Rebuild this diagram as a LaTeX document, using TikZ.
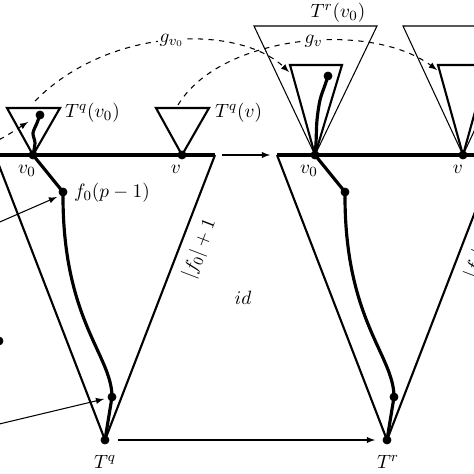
\documentclass[tikz,border=0pt]{standalone}
\usepackage{amssymb}
\usepackage{tikz}
\tikzset{>=latex}
\tikzset{edge/.style={line width=1.2pt},
         topline/.style={line width=1.8pt},
         walk/.style={line width=1.8pt,line cap=round},
         fine/.style={line width=0.6pt},
         map/.style={->,line width=0.6pt}}

\begin{document}
\begin{tikzpicture}[x=0.02cm,y=-0.02cm,font=\fontsize{11}{13}\selectfont]
            \useasboundingbox (0,0) rectangle (474,474);
            \clip (0,0) rectangle (474,474);
            % left tree
            \coordinate (v0) at (33,155);
            \coordinate (v) at (182,155);
            \coordinate (f0) at (63,192);
            \coordinate (fq) at (112,397);
            \coordinate (Tq) at (105,440);
            \coordinate (tq) at (40,115);
            \coordinate (ql) at (-5,155);
            \coordinate (qr) at (215,155);
            \draw[edge] (ql) -- (Tq) -- (qr);
            \draw[topline] (ql) -- (qr);
            \draw[edge] (7,108) -- (v0) -- (60,108) -- cycle;
            \draw[edge] (156,108) -- (v) -- (209,108) -- cycle;
            \draw[walk] plot[smooth] coordinates {(v0) (35,143) (33,133) (37,123) (tq)};
            \draw[walk] (v0) -- (f0) .. controls (62,320) and (112,355) .. (fq) -- (Tq);
            % right tree
            \coordinate (w0) at (315,155);
            \coordinate (w) at (463,155);
            \coordinate (g0) at (345,192);
            \coordinate (gr) at (394,397);
            \coordinate (Tr) at (387,440);
            \coordinate (tr) at (328,76);
            \coordinate (rl) at (277,155);
            \coordinate (rr) at (497,155);
            \draw[edge] (rl) -- (Tr) -- (rr);
            \draw[topline] (rl) -- (rr);
            \draw[fine] (254,26) -- (w0) -- (377,26) -- cycle;
            \draw[fine] (403,26) -- (w) -- (523,26) -- cycle;
            \draw[edge] (290,65) -- (w0) -- (342,65) -- cycle;
            \draw[edge] (438,65) -- (w) -- (488,65) -- cycle;
            \draw[walk] plot[smooth] coordinates {(w0) (316,143) (317,120) (320,100) (325,85) (tr)};
            \draw[walk] (w0) -- (g0) .. controls (344,320) and (394,355) .. (gr) -- (Tr);
            % maps
            \draw[map,dashed] (35,101) .. controls (110,25) and (240,25) .. (289,72)
                node[pos=0.5,fill=white,inner sep=1pt] (gv0) {$g_{v_0}$};
            \draw[map,dashed] (178,105) .. controls (220,35) and (370,20) .. (437,70)
                node[pos=0.55,fill=white,inner sep=1pt] (gv) {$g_v$};
            \draw[map,dashed] (-30,152) .. controls (0,140) .. (28,122);
            \draw[map] (222,155) -- (270,155);
            \draw[map] (118,440) -- (375,440);
            \draw[map] (-30,235) -- (57,197);
            \draw[map] (-30,431) -- (104,399);
            \foreach \v in {v0,v,f0,fq,Tq,tq,w0,w,g0,gr,Tr,tr}
                \filldraw (\v) circle (2.3pt);
            \filldraw (-1,341) circle (2.3pt);
            % labels
            \node[right] (lTqv0) at (59,113) {$T^q(v_0)$};
            \node[right] (lTqv) at (209,113) {$T^q(v)$};
            \node (lv0) at (27,171) {$v_0$};
            \node (lv) at (176,169) {$v$};
            \node[right] (lf0) at (68,193) {$f_0(p-1)$};
            \node (lTq) at (105,462) {$T^q$};
            \node (lid) at (243,298) {$id$};
            \node[rotate=69] (lsize) at (200,249) {$|f_0|+1$};
            \node (lw0) at (309,171) {$v_0$};
            \node (lw) at (458,169) {$v$};
            \node (lTr) at (388,462) {$T^r$};
            \node (lTrv0) at (338,13) {$T^r(v_0)$};
            \node[rotate=69] (rsize) at (482,249) {$|f_0|+1$};
\end{tikzpicture}
\end{document}
